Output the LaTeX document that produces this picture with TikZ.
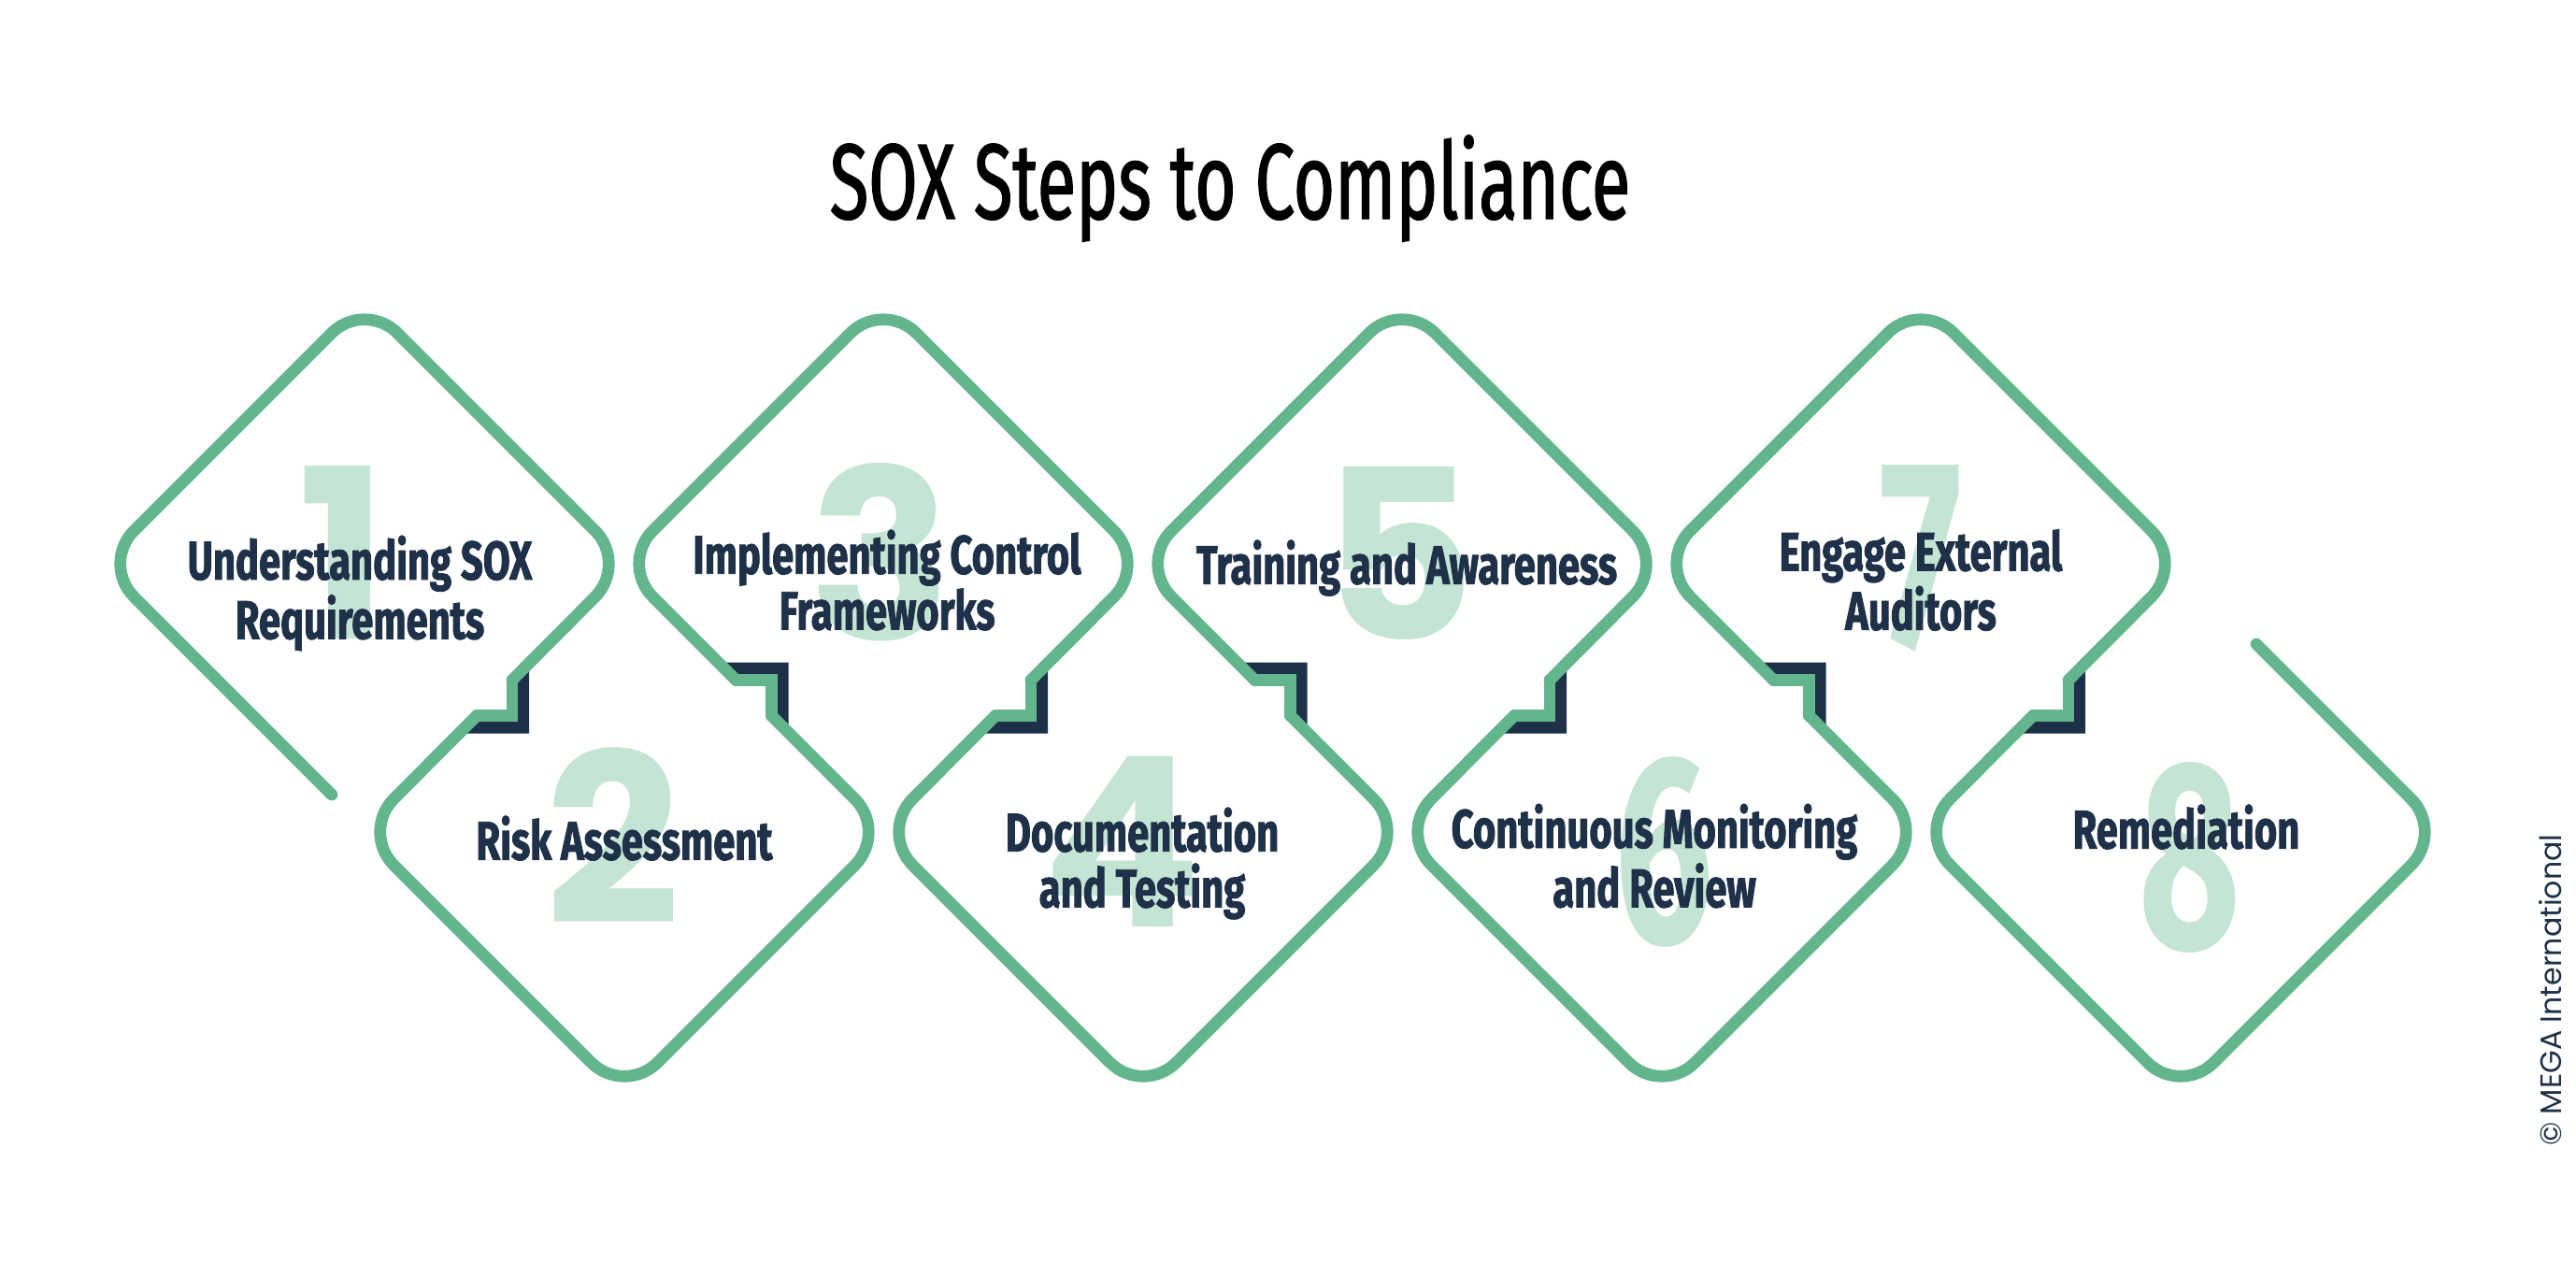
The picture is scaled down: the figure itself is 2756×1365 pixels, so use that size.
\documentclass[tikz,border=0pt]{standalone}
\usepackage{fontspec}
\usepackage{tikz}
\usetikzlibrary{calc}

\newfontfamily\titlefont[FakeStretch=0.663,FakeBold=1.2]{Fira Sans}
\newfontfamily\labelfont[FakeStretch=0.72,FakeBold=1.5]{Fira Sans}
\newfontfamily\tallfont[FakeStretch=0.65]{Fira Sans}
\newfontfamily\numfont{Poppins}
\newfontfamily\markfont{Poppins}

\definecolor{soxgreen}{HTML}{62B58C}
\definecolor{soxlight}{HTML}{C4E4D4}
\definecolor{soxnavy}{HTML}{1F3149}

\tikzset{
  greenline/.style={draw=soxgreen, line width=1.27mm, line cap=round},
  greenround/.style={greenline, line join=round, rounded corners=5mm},
  greennotch/.style={greenline, line join=miter},
  navyfill/.style={fill=soxnavy},
  steplabel/.style={font=\labelfont\bfseries\fontsize{16.5}{17}\selectfont, text=soxnavy,
    align=center, inner sep=0pt, execute at begin node=\strut, execute at end node=\strut},
  bignum/.style={font=\numfont\bfseries\fontsize{72}{72}\selectfont, text=soxlight, inner sep=0pt, anchor=base},
  tallnum/.style={font=\tallfont\bfseries\fontsize{82}{82}\selectfont, text=soxlight, inner sep=0pt, anchor=base}
}

\begin{document}
\begin{tikzpicture}[x=0.01cm, y=-0.01cm]
  \fill[white] (0,0) rectangle (2756,1365);

  % Diamond centres
  \coordinate (d1) at (390,603);
  \coordinate (d2) at (668,890);
  \coordinate (d3) at (945,603);
  \coordinate (d4) at (1223,890);
  \coordinate (d5) at (1500,603);
  \coordinate (d6) at (1778,890);
  \coordinate (d7) at (2055,603);
  \coordinate (d8) at (2333,890);

  % Notches between neighbours
  \coordinate (n1) at ($(d1)!0.5!(d2)$);
  \coordinate (n2) at ($(d2)!0.5!(d3)$);
  \coordinate (n3) at ($(d3)!0.5!(d4)$);
  \coordinate (n4) at ($(d4)!0.5!(d5)$);
  \coordinate (n5) at ($(d5)!0.5!(d6)$);
  \coordinate (n6) at ($(d6)!0.5!(d7)$);
  \coordinate (n7) at ($(d7)!0.5!(d8)$);

  % Free ends
  \coordinate (start) at (355,850);
  \coordinate (stop) at (2414,689);

  % Big numbers
  \node[bignum] (k1) at (367,683) {1};
  \node[bignum] (k2) at (656,988) {2};
  \node[bignum] (k3) at (942,684) {3};
  \node[bignum] (k4) at (1200,991) {4};
  \node[bignum] (k5) at (1497,684) {5};
  \node[tallnum] (k6) at (1780,1008) {6};
  \node[tallnum] (k7) at (2055,692) {7};
  \node[tallnum] (k8) at (2343,1014) {8};

  % Notch shadows and steps
  \foreach \n/\s in {1/1, 2/-1, 3/1, 4/-1, 5/1, 6/-1, 7/1} {
    \begin{scope}[shift={(n\n)}, yscale=\s]
      \fill[navyfill] (37,-37) -- (37,38) -- (-38,38) -- (-19,19) -- (19,19) -- (19,-19) -- cycle;
      \draw[greennotch] (19,-19) -- (19,19) -- (-19,19);
    \end{scope}
  }

  % Diamonds
  \draw[greenround] (start) -- ($(d1)+(-282,0)$) -- ($(d1)+(0,-282)$) -- ($(d1)+(282,0)$) -- ($(n1)+(19,-19)$);
  \draw[greenround] ($(n1)+(-19,19)$) -- ($(d2)+(-282,0)$) -- ($(d2)+(0,282)$) -- ($(d2)+(282,0)$) -- ($(n2)+(19,19)$);
  \draw[greenround] ($(n2)+(-19,-19)$) -- ($(d3)+(-282,0)$) -- ($(d3)+(0,-282)$) -- ($(d3)+(282,0)$) -- ($(n3)+(19,-19)$);
  \draw[greenround] ($(n3)+(-19,19)$) -- ($(d4)+(-282,0)$) -- ($(d4)+(0,282)$) -- ($(d4)+(282,0)$) -- ($(n4)+(19,19)$);
  \draw[greenround] ($(n4)+(-19,-19)$) -- ($(d5)+(-282,0)$) -- ($(d5)+(0,-282)$) -- ($(d5)+(282,0)$) -- ($(n5)+(19,-19)$);
  \draw[greenround] ($(n5)+(-19,19)$) -- ($(d6)+(-282,0)$) -- ($(d6)+(0,282)$) -- ($(d6)+(282,0)$) -- ($(n6)+(19,19)$);
  \draw[greenround] ($(n6)+(-19,-19)$) -- ($(d7)+(-282,0)$) -- ($(d7)+(0,-282)$) -- ($(d7)+(282,0)$) -- ($(n7)+(19,-19)$);
  \draw[greenround] ($(n7)+(-19,19)$) -- ($(d8)+(-282,0)$) -- ($(d8)+(0,282)$) -- ($(d8)+(282,0)$) -- (stop);

  % Step labels
  \node[steplabel] (s1) at (385,637) {Understanding SOX\\Requirements};
  \node[steplabel] (s2) at (668,905) {Risk Assessment};
  \node[steplabel] (s3) at (949,629) {Implementing Control\\Frameworks};
  \node[steplabel] (s4) at (1222,926) {Documentation\\and Testing};
  \node[steplabel] (s5) at (1505,610) {Training and Awareness};
  \node[steplabel] (s6) at (1770,924) {Continuous Monitoring\\and Review};
  \node[steplabel] (s7) at (2055,629) {Engage External\\Auditors};
  \node[steplabel] (s8) at (2339,893) {Remediation};

  % Title and mark
  \node[font=\titlefont\fontsize{32.6}{36}\selectfont, inner sep=0pt, anchor=base] (title) at (1316,234) {SOX Steps to Compliance};
  \node[font=\markfont\fontsize{9}{10}\selectfont, text=soxnavy, rotate=90, inner sep=0pt, anchor=base] (mark) at (2740,1059) {© MEGA International};
\end{tikzpicture}
\end{document}
